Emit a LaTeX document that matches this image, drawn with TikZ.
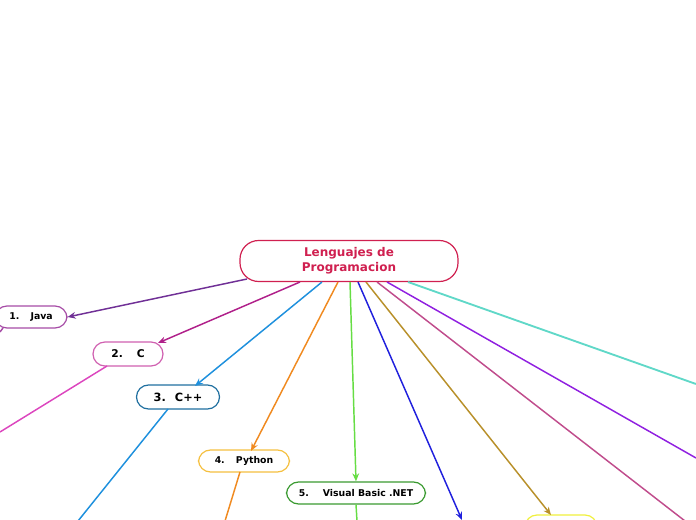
\documentclass[tikz,border=0pt]{standalone}
\usepackage{fontspec}
\setmainfont{DejaVu Sans}
\usetikzlibrary{arrows.meta}
\begin{document}
\begin{tikzpicture}[x=0.75pt,y=-0.75pt,
  box/.style={draw,line width=0.9pt,rounded corners=9pt,fill=white,font=\bfseries\fontsize{7}{8}\selectfont,inner sep=0pt},
  con/.style={line width=1.1pt,-{Stealth[length=6pt,width=5pt]}},
  lin/.style={line width=1.1pt}]
\useasboundingbox (0,0) rectangle (696,520);
\definecolor{cmain}{HTML}{D02050}
\node[box,draw=cmain,rounded corners=14pt,minimum width=218*0.75pt,minimum height=41*0.75pt,text=cmain,align=center,font=\bfseries\fontsize{9}{11}\selectfont] (m) at (349,261) {Lenguajes de\\Programacion};
\node[box,draw=violet!70,minimum width=72*0.75pt,minimum height=22*0.75pt] (java) at (31,317) {1.\hspace{1.2em}Java};
\node[box,draw={rgb,255:red,208;green,96;blue,176},minimum width=70*0.75pt,minimum height=24*0.75pt,font=\bfseries\fontsize{8}{9}\selectfont] (c) at (128,354) {2.\hspace{1.3em}C};
\node[box,draw={rgb,255:red,32;green,112;blue,160},minimum width=83*0.75pt,minimum height=24*0.75pt,font=\bfseries\fontsize{8.5}{9}\selectfont] (cpp) at (178,397) {3.\hspace{0.8em}C++};
\node[box,draw={rgb,255:red,245;green,192;blue,64},minimum width=91*0.75pt,minimum height=22*0.75pt] (py) at (244,461) {4.\hspace{1.2em}Python};
\node[box,draw={rgb,255:red,58;green,154;blue,48},minimum width=139*0.75pt,minimum height=22*0.75pt] (vb) at (356,493) {5.\hspace{1.5em}Visual Basic .NET};
\node[box,draw={rgb,255:red,240;green,240;blue,60},minimum width=72*0.75pt,minimum height=22*0.75pt] (y) at (561,526) {};
\coordinate (e1) at (0,432); \coordinate (e2) at (78,521); \coordinate (e3) at (225,521);
\coordinate (e4) at (357,521); \coordinate (e5) at (462,520); \coordinate (e6) at (685,521);
\coordinate (e7) at (696,458); \coordinate (e8) at (696,384);
\draw[con,color={rgb,255:red,112;green,48;blue,150}] (247,279) -- (java.east);
\draw[con,color={rgb,255:red,176;green,32;blue,138}] (300,282) -- (158,343);
\draw[con,color={rgb,255:red,30;green,144;blue,221}] (322,282) -- (195,386);
\draw[con,color={rgb,255:red,240;green,138;blue,32}] (338,282) -- (251,451);
\draw[con,color={rgb,255:red,102;green,221;blue,68}] (350,282) -- (vb.north);
\draw[con,color={rgb,255:red,32;green,32;blue,221}] (358,282) -- (e5);
\draw[con,color={rgb,255:red,184;green,144;blue,42}] (366,282) -- (551,515);
\draw[lin,color={rgb,255:red,192;green,76;blue,140}] (377,282) -- (e6);
\draw[lin,color={rgb,255:red,144;green,32;blue,224}] (387,282) -- (e7);
\draw[lin,color={rgb,255:red,96;green,216;blue,200},line width=1.4pt] (408,282) -- (e8);
\draw[lin,color={rgb,255:red,220;green,70;blue,190}] (107,366) -- (e1);
\draw[lin,color={rgb,255:red,30;green,144;blue,221}] (168,409) -- (e2);
\draw[lin,color={rgb,255:red,240;green,138;blue,32}] (240,472) -- (e3);
\draw[lin,color={rgb,255:red,102;green,221;blue,68}] (vb.south) -- (e4);
\draw[lin,color=violet!70] (3,328) -- (0,332);
\end{tikzpicture}
\end{document}
